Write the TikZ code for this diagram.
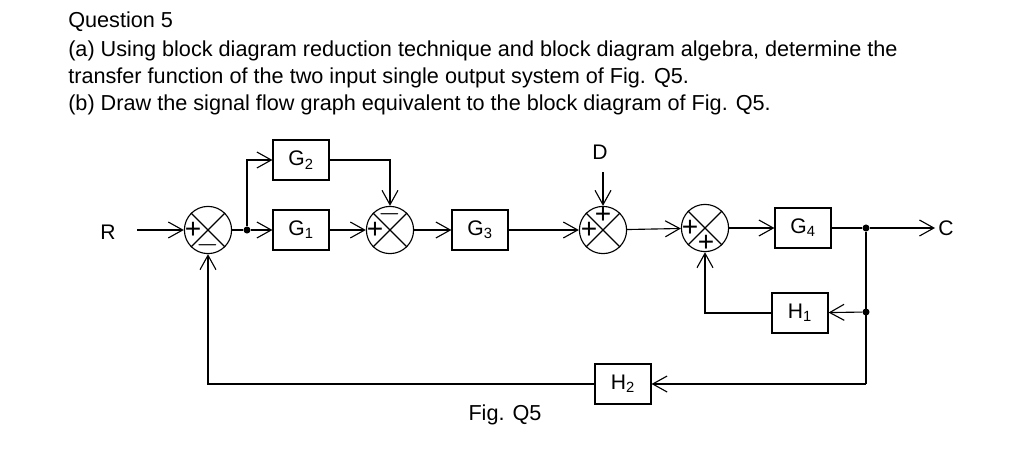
\documentclass[tikz,border=0pt]{standalone}
\usepackage{fontspec}
\setmainfont{Liberation Sans}
\usetikzlibrary{arrows.meta}

\tikzset{
  blk/.style={draw, thick, minimum width=1.4cm, minimum height=1cm, font=\fontsize{15}{17}\selectfont},
  sumj/.style={draw, thick, circle, minimum size=1.18cm, inner sep=0pt},
  sig/.style={thick, -{Straight Barb[length=3.6mm,width=4mm]}},
  dot/.style={circle, fill, inner sep=0pt, minimum size=5pt},
  sgn/.style={font=\fontsize{20}{20}\selectfont, inner sep=0pt},
  txt/.style={anchor=base west, font=\fontsize{15.4}{18}\selectfont, inner sep=0pt}
}

\begin{document}
\begin{tikzpicture}[x=0.025cm, y=-0.025cm]
\useasboundingbox (0,0) rectangle (1012,455);

% question text
\node[txt] (q0) at (68,27) {Question 5};
\node[txt] (q1) at (68,56) {(a) Using block diagram reduction technique and block diagram algebra, determine the};
\node[txt] (q2) at (68,83) {transfer function of the two input single output system of Fig. Q5.};
\node[txt] (q3) at (68,110) {(b) Draw the signal flow graph equivalent to the block diagram of Fig. Q5.};

% blocks
\node[blk] (g2) at (301,160) {G\textsubscript{2}};
\node[blk] (g1) at (301,230) {G\textsubscript{1}};
\node[blk] (g3) at (480,230) {G\textsubscript{3}};
\node[blk] (g4) at (803,228) {G\textsubscript{4}};
\node[blk] (h1) at (800,313) {H\textsubscript{1}};
\node[blk] (h2) at (623,384) {H\textsubscript{2}};

% summing junctions
\foreach \n/\x/\y in {s1/208/230, s2/390/230, s3/603/230, s4/705/228}{
  \node[sumj] (\n) at (\x,\y) {};
  \draw[thick] (\n.north west) -- (\n.south east) (\n.north east) -- (\n.south west);
}
\node[sgn] at (193,230) {+};
\node[sgn] at (208,245) {$-$};
\node[sgn] at (375,230) {+};
\node[sgn] at (390,214) {$-$};
\node[sgn] at (589,230) {+};
\node[sgn] at (603,215) {+};
\node[sgn] at (690,228) {+};
\node[sgn] at (706,243) {+};

% labels and points
\node[font=\fontsize{15}{17}\selectfont] (r) at (108,232) {R};
\node[font=\fontsize{15}{17}\selectfont] (d) at (600,152) {D};
\node[font=\fontsize{15}{17}\selectfont] (c) at (946,228) {C};
\node[font=\fontsize{15.4}{18}\selectfont] (fig) at (505,415) {Fig. Q5};
\coordinate (rin) at (137,230);
\coordinate (din) at (603,172);
\coordinate (cout) at (935,228);
\node[dot] (b1) at (247,230) {};
\node[dot] (b2) at (866,228) {};
\node[dot] (b3) at (866,312) {};
\coordinate (b4) at (866,384);

% forward path
\draw[sig] (rin) -- (s1);
\draw[thick] (s1) -- (b1);
\draw[sig] (b1) -- (g1);
\draw[sig] (b1) |- (g2);
\draw[sig] (g2.east) -| (s2.north);
\draw[sig] (g1) -- (s2);
\draw[sig] (s2) -- (g3);
\draw[sig] (g3) -- (s3);
\draw[sig] (din) -- (s3);
\draw[sig] (s3) -- (s4);
\draw[sig] (s4) -- (g4);
\draw[thick] (g4) -- (b2);
\draw[sig] (b2) -- (cout);

% feedback
\draw[thick] (b2) -- (b4);
\draw[sig] (b3) -- (h1);
\draw[sig] (h1.west) -| (s4.south);
\draw[sig] (b4) -- (h2);
\draw[sig] (h2.west) -| (s1.south);

\end{tikzpicture}
\end{document}
